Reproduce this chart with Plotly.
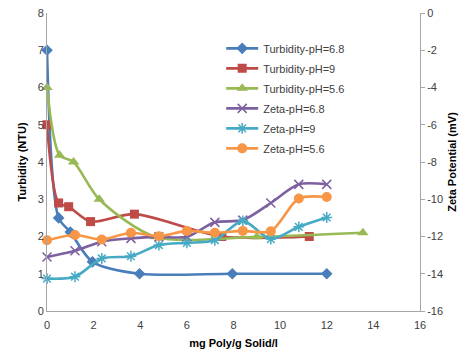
import plotly.graph_objects as go

# Turbidity series (left axis)
x_t68 = [0, 0.5, 1.0, 1.95, 3.97, 7.95, 12.0]
y_t68 = [7.0, 2.5, 2.12, 1.32, 1.0, 1.0, 1.0]

x_t9 = [0, 0.5, 0.93, 1.87, 3.75, 7.5, 11.25]
y_t9 = [5.0, 2.9, 2.8, 2.4, 2.6, 2.0, 2.0]

x_t56 = [0, 0.54, 1.14, 2.24, 4.65, 9.0, 13.55]
y_t56 = [6.0, 4.18, 4.0, 3.0, 1.99, 1.99, 2.1]

# Zeta series (right axis)
x_z = [0, 1.2, 2.35, 3.6, 4.8, 6.0, 7.2, 8.4, 9.6, 10.8, 12.0]
z_68 = [-13.1, -12.76, -12.28, -12.1, -12.02, -12.02, -11.24, -11.12, -10.2, -9.2, -9.2]
z_9 = [-14.26, -14.16, -13.18, -13.06, -12.46, -12.34, -12.2, -11.16, -12.14, -11.48, -10.98]
z_56 = [-12.2, -11.92, -12.16, -11.8, -11.98, -11.7, -11.8, -11.7, -11.72, -9.96, -9.88]

x_ticks = [0, 2, 4, 6, 8, 10, 12, 14, 16]
y_ticks = [0, 1, 2, 3, 4, 5, 6, 7, 8]
y2_ticks = [-16, -14, -12, -10, -8, -6, -4, -2, 0]

FONT = "Liberation Sans"
TXT = "#404040"

fig = go.Figure()

def add(x, y, name, color, symbol, size, axis="y", mline=None):
    marker = dict(symbol=symbol, size=size, color=color)
    if mline:
        marker["line"] = dict(color=color, width=mline)
    fig.add_trace(go.Scatter(
        x=x, y=y, name=name, legendgroup=name, mode="lines+markers", yaxis=axis,
        line=dict(color=color, width=2.6, shape="spline", smoothing=0.8),
        marker=marker, cliponaxis=False))

add(x_t68, y_t68, "Turbidity-pH=6.8", "#4A7EBB", "diamond", 9)
add(x_t9, y_t9, "Turbidity-pH=9", "#BE4B48", "square", 9)
add(x_t56, y_t56, "Turbidity-pH=5.6", "#98B954", "triangle-up", 10)
add(x_z, z_68, "Zeta-pH=6.8", "#7D60A0", "x-thin", 9, "y2", 1.5)
add(x_z, z_9, "Zeta-pH=9", "#46AAC5", "asterisk", 9, "y2", 1.5)
add(x_z, z_56, "Zeta-pH=5.6", "#F79646", "circle", 10, "y2")

fig.update_layout(
    width=474, height=363,
    margin=dict(l=47, r=54, t=13, b=52),
    paper_bgcolor="white", plot_bgcolor="white",
    font=dict(family=FONT, size=11, color=TXT),
    showlegend=True,
    legend=dict(x=0.467, y=0.93, xanchor="left", yanchor="top",
                bgcolor="rgba(0,0,0,0)", font=dict(size=11, color=TXT),
                tracegroupgap=1, itemwidth=32),
    xaxis=dict(range=[0, 16], tickvals=x_ticks, ticktext=[str(v) for v in x_ticks],
               showgrid=False, zeroline=False, showline=True, linecolor="#A6A6A6",
               linewidth=1, ticks="", tickfont=dict(size=11, color=TXT), automargin=False,
               ticklabelstandoff=4,
               title=dict(text="<b>mg Poly/g Solid/l</b>", font=dict(size=11, color="black"), standoff=9)),
    yaxis=dict(range=[0, 8], tickvals=y_ticks, ticktext=[str(v) for v in y_ticks],
               showgrid=False, zeroline=False, showline=True, linecolor="#A6A6A6",
               linewidth=1, ticks="", tickfont=dict(size=11, color=TXT), automargin=False,
               title=dict(text="<b>Turbidity (NTU)</b>", font=dict(size=11, color="black"), standoff=8)),
    yaxis2=dict(range=[-16, 0], tickvals=y2_ticks, ticktext=[str(v) for v in y2_ticks],
                overlaying="y", side="right", anchor="x",
                showgrid=False, zeroline=False, showline=True, linecolor="#A6A6A6",
                linewidth=1, ticks="outside", ticklen=4, tickcolor="#A6A6A6",
                tickfont=dict(size=11, color=TXT), automargin=False,
                title=dict(text="<b>Zeta Potential (mV)</b>", font=dict(size=11, color="black"), standoff=6)),
)

# remove the browser's default 8px body margin so the figure fills the window
fig.write_html("out.html", config={"displayModeBar": False},
               post_script="document.body.style.margin='0';document.body.style.overflow='hidden';")
